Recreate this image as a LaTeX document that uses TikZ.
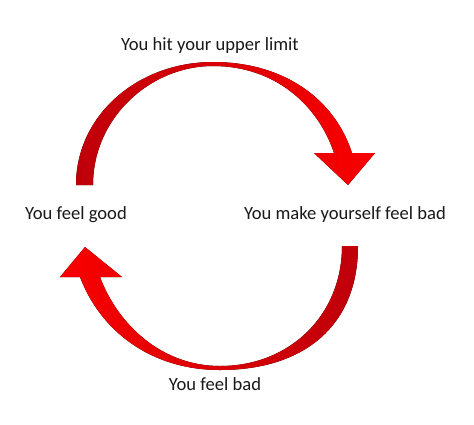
\documentclass[tikz,border=0pt]{standalone}
\usepackage{fontspec}
\setmainfont{Carlito}
\usetikzlibrary{positioning}
\definecolor{ink}{RGB}{25,25,25}
\definecolor{hot}{RGB}{250,0,0}
\definecolor{deep}{RGB}{190,0,10}
\tikzset{
  lbl/.style={font=\fontsize{18.6}{22}\selectfont,text=ink,inner sep=0pt},
  loopup/.style={left color=deep,right color=hot,draw=none},
  loopdown/.style={left color=hot,right color=deep,draw=none},
}

\begin{document}
\begin{tikzpicture}[x=1pt,y=-1pt]
  \useasboundingbox[fill=white] (0,0) rectangle (474,424);

  % the four states
  \node[lbl] (upper)   at (210,46)  {You hit your upper limit};
  \node[lbl] (feelgood) at (76,215) {You feel good};
  \node[lbl] (selfbad) at (345,215) {You make yourself feel bad};
  \node[lbl] (feelbad) at (215,384) {You feel bad};

  % upper arc: good -> make yourself feel bad
  \fill[loopup] (76,185) .. controls (76,115) and (138,62) .. (213,62)
    .. controls (285,62) and (335,100) .. (352,153)
    -- (375,153) -- (348,185) -- (314,153) -- (334,153)
    .. controls (318,105) and (275,66) .. (213,66)
    .. controls (150,66) and (93,118) .. (93,185) -- cycle;

  % lower arc: feel bad -> good
  \fill[loopdown] (358,246) .. controls (358,325) and (305,370) .. (220,370)
    .. controls (150,370) and (100,330) .. (80,277)
    -- (60,277) -- (85,247) -- (122,277) -- (100,277)
    .. controls (118,325) and (162,366) .. (220,366)
    .. controls (290,366) and (342,315) .. (342,246) -- cycle;
\end{tikzpicture}
\end{document}
